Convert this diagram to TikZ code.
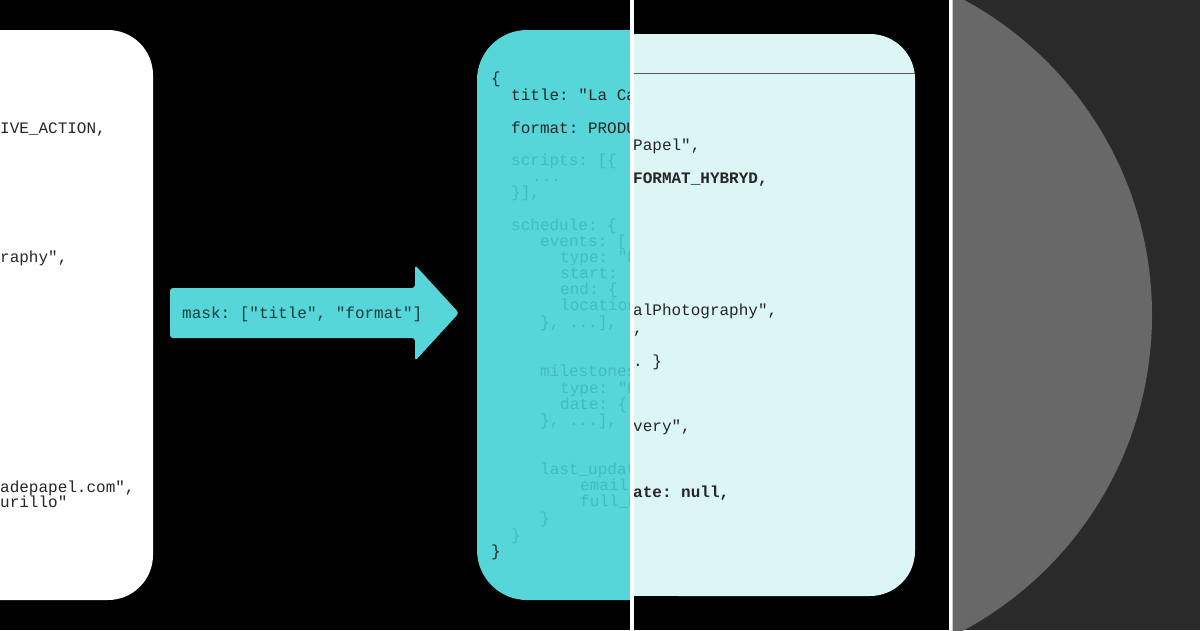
\documentclass[tikz,border=0pt]{standalone}
\usepackage{fontspec}
\setmonofont{Liberation Mono}
\definecolor{teal1}{RGB}{86,214,216}
\definecolor{tealfade}{RGB}{66,188,190}
\definecolor{masktxt}{RGB}{25,60,60}
\definecolor{pale}{RGB}{220,245,245}
\definecolor{dgrey}{RGB}{42,42,42}
\definecolor{mgrey}{RGB}{104,104,104}
\begin{document}
\begin{tikzpicture}[x=1pt,y=-1pt,
  code/.style={font=\ttfamily\fontsize{16}{16}\selectfont,anchor=base west,inner sep=0pt,text=#1},
  code/.default={black!85},
  boldcode/.style={code,font=\ttfamily\bfseries\fontsize{16}{16}\selectfont}]
\useasboundingbox (0,0) rectangle (1200,630);
\fill[black] (0,0) rectangle (1200,630);
\begin{scope}
\clip (0,0) rectangle (631,630);
\fill[white,rounded corners=45] (-60,30) rectangle (153,600);
\node[code] (l1) at (0,133) {IVE\_ACTION,};
\node[code] (l2) at (0,262) {raphy",};
\node[code] (l3) at (0,492) {adepapel.com",};
\node[code] (l4) at (0,507) {urillo"};
\fill[teal1,rounded corners=3]
  (170,288) -- (415,288) -- (415,265) -- (459,313) -- (415,361) -- (415,338) -- (170,338) -- cycle;
\node[code=masktxt] (mask) at (182,318) {mask: ["title", "format"]};
\fill[teal1,rounded corners=50] (477,30) rectangle (720,600);
\node[code] (t0) at (491,83) {\{};
\node[code] (t1) at (511,100) {title: "La Ca};
\node[code] (t2) at (511,133) {format: PRODU};
\begin{scope}[every node/.style={code=tealfade}]
\node (f1) at (511,165) {scripts: [\{};
\node (f2) at (532,181) {...};
\node (f3) at (511,197) {\}],};
\node (f4) at (511,230) {schedule: \{};
\node (f5) at (540,246) {events: [};
\node (f6) at (560,262) {type: "P};
\node (f7) at (560,278) {start:};
\node (f8) at (560,294) {end: \{};
\node (f9) at (560,310) {location};
\node (f10) at (540,327) {\}, ...],};
\node (f11) at (540,376) {milestones};
\node (f12) at (560,393) {type: "D};
\node (f13) at (560,409) {date: \{};
\node (f14) at (540,425) {\}, ...],};
\node (f15) at (540,474) {last\_updat};
\node (f16) at (580,490) {email};
\node (f17) at (580,506) {full\_n};
\node (f18) at (540,523) {\}};
\node (f19) at (511,540) {\}};
\end{scope}
\node[code] (t3) at (491,556) {\}};
\end{scope}
\fill[pale,rounded corners=45] (633,34) -- (915,34) -- (915,596) -- (633,596) -- cycle;
\fill[pale] (633,34) rectangle (700,596);
\draw[black!65,line width=1] (633,73) -- (915,73);
\node[code] (r1) at (633,150) {Papel",};
\node[boldcode] (r2) at (633,183) {FORMAT\_HYBRYD,};
\node[code] (r3) at (633,315) {alPhotography",};
\node[code] (r4) at (633,333) {,};
\node[code] (r5) at (633,366) {. \}};
\node[code] (r6) at (633,431) {very",};
\node[boldcode] (r7) at (633,497) {ate: null,};
\fill[white] (630,0) rectangle (633.5,630);
\fill[white] (949,0) rectangle (952.5,630);
\begin{scope}
\clip (952.5,0) rectangle (1200,630);
\fill[dgrey] (952.5,0) rectangle (1200,630);
\fill[mgrey] (794,315) circle (358);
\end{scope}
\end{tikzpicture}
\end{document}
